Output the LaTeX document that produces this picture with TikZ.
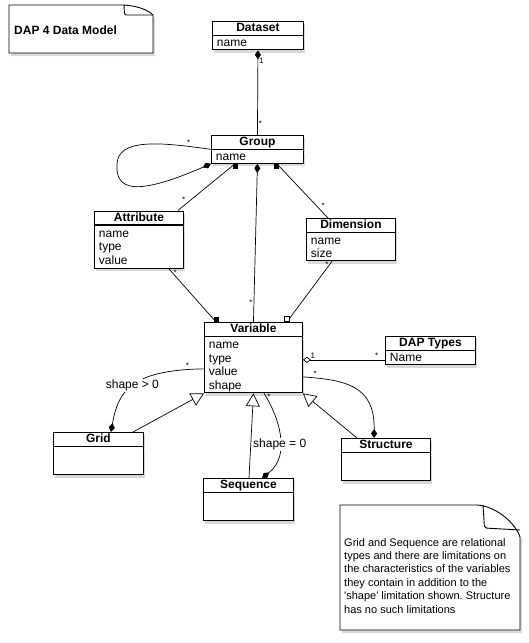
\documentclass[tikz,border=0pt]{standalone}
\usepackage{fontspec}
\setmainfont{Liberation Sans}
\usetikzlibrary{arrows.meta,positioning,shadows}
\frenchspacing

\tikzset{
	shadowed/.style={drop shadow={shadow xshift=2pt,shadow yshift=-3pt,opacity=.3}},
	head/.style={draw,fill=white,shadowed,line width=.9pt,anchor=north west,inner sep=0pt,
		minimum height=13.5pt,text height=9.5pt,text depth=2pt,
		font=\bfseries\fontsize{12}{13}\selectfont},
	body/.style={draw,fill=white,shadowed,line width=.9pt,below=0pt of #1,
		inner xsep=4.5pt,inner ysep=0pt,align=left,
		font=\fontsize{12}{13.7}\selectfont,
		execute at begin node={\rule{0pt}{10.5pt}},
		execute at end node={\rule[-2.5pt]{0pt}{2.5pt}}},
	note/.style={draw,fill=white,shadowed,line width=.9pt},
	fold/.style={line width=.9pt,rounded corners=2pt},
	link/.style={line width=.7pt},
	comp/.style={link,arrows={Diamond[length=9pt,width=6pt]-}},
	aggr/.style={link,arrows={Diamond[open,length=8pt,width=6pt]-}},
	isa/.style={link,arrows={-Triangle[open,length=13pt,width=14pt]}},
	sq/.style={fill,minimum size=5pt,inner sep=0pt},
	sqopen/.style={draw,fill=white,line width=.6pt,minimum size=5pt,inner sep=0pt},
	mult/.style={font=\fontsize{8}{8}\selectfont,inner sep=1pt},
	guard/.style={fill=white,inner sep=1pt,font=\fontsize{12}{13}\selectfont},
}

\begin{document}
\begin{tikzpicture}[x=1pt,y=-1pt]
	\useasboundingbox (0,0) rectangle (529,643);
	%
	% notes
	\draw[note] (9,5) -- (124,5) .. controls (138,6) and (148,10) .. (153,15) -- (153,53) -- (9,53) -- cycle;
	\draw[fold] (124,5) -- (124.5,15) -- (153,15);
	\node[anchor=west,inner sep=0pt,font=\bfseries\fontsize{12}{14}\selectfont] (title) at (14,30) {DAP 4 Data Model};
	%
	\draw[note] (340,505) -- (477,505) .. controls (495,506) and (515,522) .. (520,537) -- (520,630) -- (340,630) -- cycle;
	\draw[fold] (483,505) -- (484.5,528) -- (520,530);
	\node[anchor=north west,inner sep=0pt,align=left,font=\fontsize{11}{13.4}\selectfont] (limits) at (344,538)
		{Grid and Sequence are relational\\types and there are limitations on\\the characteristics of the variables\\they contain in addition to the\\\textquotesingle shape\textquotesingle{} limitation shown. Structure\\has no such limitations};
	%
	% classes
	\node[head,minimum width=91pt] (dataset) at (212,21) {Dataset};
	\node[body=dataset,text width=82pt,minimum height=14pt] (datasetb) {name};
	\node[head,minimum width=92pt] (group) at (211,135) {Group};
	\node[body=group,text width=83pt,minimum height=13.5pt] (groupb) {name};
	\node[head,minimum width=89pt] (attr) at (94,210.5) {Attribute};
	\node[body=attr,text width=80pt,minimum height=43pt] (attrb) {name\\type\\value};
	\node[head,minimum width=89pt] (dim) at (306,218) {Dimension};
	\node[body=dim,text width=80pt,minimum height=28pt] (dimb) {name\\size};
	\node[head,minimum width=98pt] (var) at (204,322) {Variable};
	\node[body=var,text width=89pt,minimum height=56pt] (varb) {name\\type\\value\\shape};
	\node[head,minimum width=90pt] (types) at (385,336) {DAP Types};
	\node[body=types,text width=81pt,minimum height=14pt] (typesb) {Name};
	\node[head,minimum width=90pt] (grid) at (53,432) {Grid};
	\node[body=grid,text width=81pt,minimum height=28pt] (gridb) {};
	\node[head,minimum width=90pt] (seq) at (203,478) {Sequence};
	\node[body=seq,text width=81pt,minimum height=28pt] (seqb) {};
	\node[head,minimum width=89pt] (struct) at (341,438) {Structure};
	\node[body=struct,text width=80pt,minimum height=28pt] (structb) {};
	%
	% associations
	\draw[comp] (datasetb.south) -- node[mult,right,pos=.12] (dsone) {1} node[mult,right,pos=.87] (dsmany) {*} (group.north);
	\draw[comp] (groupb.south west) .. controls (150,190) and (115,197) .. (117,165)
		.. controls (117,138) and (160,142) .. (group.south west) node[mult,above,pos=.85] (grmany) {*};
	\draw[link] ([xshift=24pt]groupb.south west) node[sq,anchor=north] (grattr) {}
		-- node[mult,above left,pos=.85] (atmany) {*} ([xshift=-6pt]attr.north east);
	\draw[comp] (groupb.south) -- node[mult,left,pos=.88] (vrmany) {*} (var.north);
	\draw[link] ([xshift=-27pt]groupb.south east) node[sq,anchor=north] (grdim) {}
		-- node[mult,above right,pos=.85] (dmmany) {*} ([xshift=22pt]dim.north west);
	\draw[link] ([xshift=12pt]var.north west) node[sq,anchor=south] (vrattr) {}
		-- node[mult,right,pos=.93] (vamany) {*} ([xshift=-15pt]attrb.south east);
	\draw[link] ([xshift=-16pt]var.north east) node[sqopen,anchor=south] (vrdim) {}
		-- node[mult,left,pos=.95] (vdmany) {*} ([xshift=26pt]dimb.south west);
	\draw[aggr] ([yshift=5pt]varb.east) -- node[mult,above,pos=.12] (tpone) {1} node[mult,above,pos=.9] (tpmany) {*} ([yshift=-2pt]typesb.west);
	%
	% containers
	\draw[comp] ([xshift=58pt]grid.north west) .. controls (118,392) and (130,370) .. ([yshift=-4pt]varb.west)
		node[guard,pos=.5] (gridcond) {shape > 0} node[mult,above,pos=.92] (gdmany) {*};
	\draw[comp] ([xshift=59pt]seq.north west) .. controls (292,455) and (278,415) .. ([xshift=60pt]varb.south west)
		node[guard,pos=.4] (seqcond) {shape = 0} node[mult,right,pos=.95] (sqmany) {*};
	\draw[comp] ([xshift=33pt]struct.north west) .. controls (375,385) and (345,380) .. ([yshift=-12pt]varb.east)
		node[mult,above,pos=.9] (stmany) {*};
	%
	% inheritance
	\draw[isa] ([xshift=80pt]grid.north west) -- (varb.south west);
	\draw[isa] ([xshift=46pt]seq.north west) -- (varb.south);
	\draw[isa] ([xshift=16pt]struct.north west) -- (varb.south east);
\end{tikzpicture}
\end{document}
